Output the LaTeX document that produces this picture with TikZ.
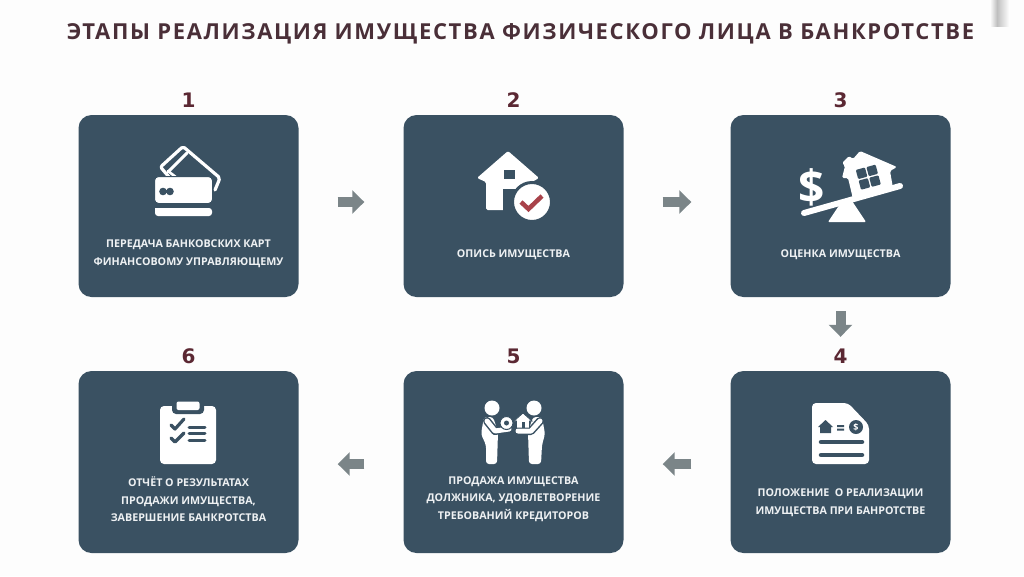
\documentclass[tikz,border=0pt]{standalone}
\usepackage{fontspec}
\setmainfont{Open Sans}
\newfontfamily\numfont{DejaVu Sans}
\usetikzlibrary{matrix,calc,positioning,arrows.meta}
\definecolor{cardfill}{HTML}{3A5162}
\definecolor{titlecol}{HTML}{4A2F38}
\definecolor{numcol}{HTML}{5B2833}
\definecolor{arrowgray}{HTML}{7B8588}
\definecolor{checkred}{HTML}{A8424A}
\definecolor{cardtextcol}{HTML}{EEF1F3}
\definecolor{pagecol}{HTML}{FDFDFD}

\begin{document}
\begin{tikzpicture}[x=1pt,y=-1pt,
            matr/.style={
                matrix of nodes,
                row sep=74pt,
                column sep=105pt,
                nodes={fill=cardfill, rounded corners=13pt, inner sep=0pt,
                    minimum width=220pt, minimum height=182pt},
                nodes in empty cells
            },
            cardtext/.style={align=center, text=cardtextcol,
                font=\fontsize{10.7}{17.5}\selectfont\bfseries},
            stepnum/.style={text=numcol, inner sep=0pt,
                font=\fontsize{20}{20}\selectfont\numfont\bfseries},
            flow/.style={draw=arrowgray, line width=10pt,
                shorten <=39pt, shorten >=39pt,
                -{Triangle[length=12pt,width=23pt]}},
            icon/.style={fill=white},
            iconline/.style={draw=white, line cap=round, line join=round},
            darkline/.style={draw=cardfill, line cap=round, line join=round}]
            \fill[pagecol] (0,0) rectangle (1024,576);
            \useasboundingbox (0,0) rectangle (1024,576);
            \shade[left color=pagecol, right color=gray!50] (990,0) rectangle (997,26);
            \shade[left color=gray!50, right color=pagecol] (997,0) rectangle (1009,26);
            \node (title) at (520.5,33.5) [text=titlecol, inner sep=0pt,
                font=\fontsize{22}{22}\selectfont\bfseries\addfontfeature{LetterSpace=7.5}]
                {ЭТАПЫ РЕАЛИЗАЦИЯ ИМУЩЕСТВА ФИЗИЧЕСКОГО ЛИЦА В БАНКРОТСТВЕ};
            \matrix (m) at (514.5,334) [matr] {
                 & &[2pt] \\
                 & &[2pt] \\
            };
            \foreach \cell/\num in {m-1-1/1,m-1-2/2,m-1-3/3,m-2-3/4,m-2-2/5,m-2-1/6}
                \node (num\num) [stepnum, above=7pt of \cell] {\num};
            \foreach \cell/\dy/\txt in {
                m-1-1/43.5/{ПЕРЕДАЧА БАНКОВСКИХ КАРТ\\ФИНАНСОВОМУ УПРАВЛЯЮЩЕМУ},
                m-1-2/42.5/{ОПИСЬ ИМУЩЕСТВА},
                m-1-3/42.5/{ОЦЕНКА ИМУЩЕСТВА},
                m-2-3/50.5/{ПОЛОЖЕНИЕ\ \ О РЕАЛИЗАЦИИ\\ИМУЩЕСТВА ПРИ БАНРОТСТВЕ},
                m-2-2/54/{ПРОДАЖА ИМУЩЕСТВА\\ДОЛЖНИКА, УДОВЛЕТВОРЕНИЕ\\ТРЕБОВАНИЙ КРЕДИТОРОВ},
                m-2-1/54/{ОТЧЁТ О РЕЗУЛЬТАТАХ\\ПРОДАЖИ ИМУЩЕСТВА,\\ЗАВЕРШЕНИЕ БАНКРОТСТВА}}
                \node (text-\cell) [cardtext] at ($(\cell.south)+(0,-\dy)$) {\txt};
            \draw[flow, transform canvas={yshift=4pt}] (m-1-1) -- (m-1-2);
            \draw[flow, transform canvas={yshift=4pt}] (m-1-2) -- (m-1-3);
            \draw[flow, shorten <=14pt, shorten >=34pt] (m-1-3) -- (m-2-3);
            \draw[flow, transform canvas={yshift=-2pt}] (m-2-3) -- (m-2-2);
            \draw[flow, transform canvas={yshift=-2pt}] (m-2-2) -- (m-2-1);
            % cards
            \draw[iconline, line width=3.2pt, rounded corners=2pt] (169,177) -- (160.5,167) -- (183,146.5) -- (220,178) -- (215,190);
            \draw[iconline, line width=3pt] (168,172) -- (187,153);
            \draw[iconline, line width=2.6pt] (168,171) -- (177,178);
            \fill[icon, draw=cardfill, line width=1pt, rounded corners=4pt] (154.5,176.5) rectangle (212.5,203.5);
            \fill[cardfill] (163,191.5) circle (3.8) (170,191.5) circle (3.8);
            \fill[icon, rounded corners=3pt] (155,208) -- (155,216) -- (212,216) -- (212,208) [sharp corners] -- cycle;
            % house and check
            \fill[icon, rounded corners=1.5pt] (508,151) -- (539,178) -- (532,182) -- (532,210) -- (486,210) -- (486,182) -- (477,178) -- cycle;
            \fill[cardfill] (504,170) rectangle (515,179);
            \fill[cardfill] (503,189) rectangle (516,211);
            \fill[icon, draw=cardfill, line width=3pt] (532,202) circle (19.5);
            \draw[draw=checkred, line width=4.5pt] (521,202) -- (528.5,209) -- (542,196);
            % balance
            \node (dollar) at (812,187) [text=white, inner sep=0pt, font=\fontsize{46}{46}\selectfont\bfseries] {\$};
            \draw[iconline, line width=6pt] (804,213) -- (900,186);
            \fill[icon, rounded corners=1pt] (840,204) -- (852,201) -- (866,222) -- (828,222) -- cycle;
            \fill[icon, rounded corners=1.5pt] (860,151) -- (897,167) -- (890,171) -- (893,188) -- (853,199) -- (848,178) -- (842,178) -- (845,166) -- (842,163) -- (849,156) -- (853,159) -- cycle;
            \begin{scope}[rotate around={15:(868,177)}]
                \foreach \wx/\wy in {858/167,869/167,858/178,869/178}
                    \fill[cardfill, rounded corners=1pt] (\wx,\wy) rectangle ++(9.5,9.5);
            \end{scope}
            % document
            \fill[icon, rounded corners=4pt] (812,403) -- (848,403) -- (869,425) -- (869,464) -- (812,464) -- cycle;
            \fill[cardfill] (825.5,420) -- (833,427) -- (831,427) -- (831,433) -- (820,433) -- (820,427) -- (818,427) -- cycle;
            \fill[cardfill] (837,425) rectangle (844,427) (837,428.5) rectangle (844,430.5);
            \fill[cardfill] (856,427) circle (7);
            \node (docdollar) at (856,427) [text=white, inner sep=0pt, font=\fontsize{9}{9}\selectfont\bfseries] {\$};
            \draw[darkline, line width=4.5pt] (821,442) -- (862,442);
            \draw[darkline, line width=4.5pt] (821,455) -- (862,455);
            % people
            \fill[icon] (492,408) circle (7.5) (534,408) circle (7.5);
            \fill[icon, rounded corners=3pt] (484,417) -- (493,417) -- (498,432) -- (497,464) -- (486,464) -- (486,445) -- (481,434) -- cycle;
            \fill[icon, rounded corners=3pt] (542,417) -- (533,417) -- (528,432) -- (529,464) -- (541,464) -- (542,445) -- (545,434) -- cycle;
            \draw[darkline, line width=8pt] (487,421) -- (495,431) -- (509,429);
            \draw[iconline, line width=5pt] (487,421) -- (495,431) -- (509,429);
            \draw[darkline, line width=8pt] (540,421) -- (531,431) -- (518,431);
            \draw[iconline, line width=5pt] (540,421) -- (531,431) -- (518,431);
            \fill[icon, draw=cardfill, line width=1pt] (506.5,423) circle (6.5);
            \fill[cardfill] (506.5,423) circle (2.5);
            \fill[icon, draw=cardfill, line width=.8pt] (523,413) -- (532,421) -- (529.5,421) -- (529.5,428) -- (516.5,428) -- (516.5,421) -- (514,421) -- cycle;
            \fill[cardfill] (521.5,422) rectangle (524.5,428);
            % clipboard
            \fill[icon, rounded corners=4pt] (160,406) rectangle (216,464);
            \fill[cardfill, rounded corners=4pt] (172,400) rectangle (204,414);
            \fill[icon, rounded corners=2pt] (176.5,401.5) rectangle (199.5,410);
            \draw[darkline, line width=3.2pt] (171,425) -- (175,429) -- (184,419);
            \draw[darkline, line width=3.2pt] (171,438) -- (175,442) -- (184,433);
            \foreach \ly in {427,433.5,440}
                \draw[darkline, line width=3pt] (189,\ly) -- (205,\ly);
            \end{tikzpicture}
\end{document}
